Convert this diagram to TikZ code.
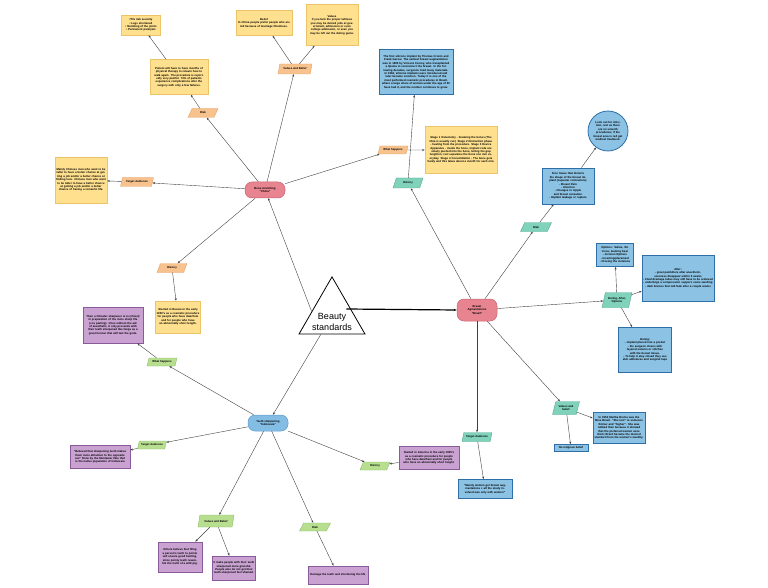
\documentclass[tikz,border=0pt]{standalone}
\usepackage{fontspec}
\setmainfont{Liberation Sans}
\usetikzlibrary{shapes.geometric,arrows.meta}
\definecolor{opara}{HTML}{F7C28E}\definecolor{oparad}{HTML}{E5A36A}
\definecolor{ybox}{HTML}{FFE08E}\definecolor{yboxd}{HTML}{EBC46A}
\definecolor{pinkp}{HTML}{E8848F}\definecolor{pinkpd}{HTML}{C86373}
\definecolor{bluep}{HTML}{84BDE4}\definecolor{bluepd}{HTML}{5E9CCB}
\definecolor{tpara}{HTML}{80D2BA}\definecolor{tparad}{HTML}{52A98F}
\definecolor{bbox}{HTML}{8CC2E3}\definecolor{bboxd}{HTML}{2F6FA8}
\definecolor{gpara}{HTML}{B8DF90}\definecolor{gparad}{HTML}{8BBA6A}
\definecolor{pbox}{HTML}{C9A2D1}\definecolor{pboxd}{HTML}{8A5A9A}
\tikzset{
 tiny/.style={font=\fontsize{2.8}{3.4}\selectfont\bfseries, align=center, inner sep=1pt},
 para/.style={tiny, trapezium, trapezium left angle=70, trapezium right angle=110, trapezium stretches=true, line width=0.4pt},
 op/.style={para, fill=opara, draw=oparad},
 tp/.style={para, fill=tpara, draw=tparad},
 gp/.style={para, fill=gpara, draw=gparad},
 bx/.style={tiny, rectangle, line width=0.5pt},
 yb/.style={bx, fill=ybox, draw=yboxd},
 bb/.style={bx, fill=bbox, draw=bboxd, line width=0.8pt},
 pb/.style={bx, fill=pbox, draw=pboxd, line width=0.7pt},
 pill/.style={tiny, rectangle, rounded corners=7pt, line width=0.5pt},
 arr/.style={-{Stealth[length=2.6pt,width=2pt]}, line width=0.4pt, draw=black!75},
}
\begin{document}
\begin{tikzpicture}[x=1pt,y=-1pt]
\useasboundingbox (0,0) rectangle (768,588);
% central
\node[draw, line width=0.8pt, isosceles triangle, isosceles triangle apex angle=60, shape border rotate=90, minimum width=66pt, inner sep=0pt] (bs) at (332,315) {};
\node[font=\fontsize{9}{11}\selectfont, align=center] (bst) at (332,322) {Beauty\\standards};
% hubs
\node[pill, fill=pinkp, draw=pinkpd, minimum width=40pt, minimum height=16pt] (china) at (265,190) {Bone stretching\\"China"};
\node[pill, fill=pinkp, draw=pinkpd, minimum width=40pt, minimum height=22pt] (brazil) at (477,310) {Breast\\Agmentations\\"Brazil"};
\node[pill, fill=bluep, draw=bluepd, minimum width=40pt, minimum height=16pt] (indo) at (268,423) {Teeth sharpening\\"Indonesia"};
\draw[arr] (bs.170) -- (china);
\draw[-{Stealth[length=3pt]}, line width=1.2pt] (bs.east) ++(-8,-6) -- (brazil.west);
\draw[arr] (bs.240) -- (indo);
% China branch
\node[op, minimum width=30pt, minimum height=9pt] (crisk) at (203,113) {Risk};
\node[yb, minimum width=58pt, minimum height=35pt, text width=55pt] (crb) at (179,77) {Patient will have to have months of physical therapy to relearn how to walk again. The procedure is reportedly very painful. 73\% of patients experience complications after the surgery with only a few failures.};
\node[yb, minimum width=39pt, minimum height=20pt, text width=37pt] (crs) at (141,25) {75\% risk severity\\• Legs shortened\\• Numbing of the joints\\• Permanent paralysis};
\node[op, minimum width=34pt, minimum height=10pt] (cval) at (295,69) {Values and Belief};
\node[yb, minimum width=56pt, minimum height=25pt, text width=54pt] (cbel) at (264,23) {Belief\\In China people prefer people who are tall because of marriage fittedness.};
\node[yb, minimum width=52pt, minimum height=41pt, text width=50pt] (cvalb) at (332,25) {Values\\If you lack the proper tallness you may be denied jobs at government, admission or even college admission, or even you may be left out the dating game.};
\node[op, minimum width=33pt, minimum height=9pt] (cta) at (137,182) {Target Audience};
\node[yb, minimum width=52pt, minimum height=46pt, text width=50pt] (ctab) at (81,180) {Mainly Chinese men who want to be taller to have a better chance at getting a job and/or a better chance at finding love. Chinese men who want to be taller to have a better chance at getting a job and/or a better chance of having a romantic life.};
\node[op, minimum width=30pt, minimum height=9pt] (chis) at (172,268) {History};
\node[yb, minimum width=45pt, minimum height=32pt, text width=43pt] (chisb) at (178,317) {Started in Russia in the early 1950's as a cosmetic procedure for people who have dwarfism and for people who have an abnormally short length.};
\node[op, minimum width=30pt, minimum height=8pt] (cwh) at (393,150) {What happens};
\node[yb, minimum width=72pt, minimum height=47pt, text width=70pt] (cwhb) at (461,150) {Stage 1 Osteotomy - breaking the bones (The tibia is usually cut.) Stage 2 Distraction phase - healing from the procedure. Stage 3 Device Apparatus - inside the bone, implant rods are slowly pushed into the bone, letting the gap lengthen; rest separates the bone one mm everyday. Stage 4 Consolidation - The bone gets hardy and this takes about a month for each mm.};
\draw[arr] (china) -- (crisk); \draw[arr] (crisk) -- (crb); \draw[arr] (crb) -- (crs);
\draw[arr] (china) -- (cval); \draw[arr] (cval) -- (cbel); \draw[arr] (cval) -- (cvalb);
\draw[arr] (china) -- (cta); \draw[arr] (cta) -- (ctab);
\draw[arr] (china) -- (chis); \draw[arr] (chis) -- (chisb);
\draw[arr] (china) -- (cwh); \draw[arr] (cwh) -- (cwhb);
% Brazil branch
\node[tp, minimum width=30pt, minimum height=10pt] (bhis) at (408,183) {History};
\node[bb, minimum width=74pt, minimum height=45pt, text width=72pt] (bhisb) at (416,72) {The first silicone implant by Thomas Cronin and Frank Gerow. The earliest breast augmentation was in 1895 by Vincenz Czerny, who transplanted a lipoma to reconstruct the breast. In the following decades, surgeons tried many materials. In 1962, silicone implants were introduced and later became common. Today it is one of the most performed cosmetic procedures in Brazil, where a large share of women under the age of 40 have had it, and the number continues to grow.};
\node[tp, minimum width=31pt, minimum height=9pt] (brisk) at (536,227) {Risk};
\node[bb, minimum width=52pt, minimum height=36pt, text width=50pt] (briskb) at (568,186) {Scar tissue that distorts the shape of the breast implant (capsular contracture)\\- Breast Pain\\- Infection\\- Changes in nipple and breast sensation\\- Implant leakage or rupture};
\node[bb, circle, minimum size=40pt, text width=30pt, inner sep=0pt] (bcirc) at (608,131) {Look out for infection, rest as there are no smooth procedures; if the breast area is red get medical treatment.};
\node[tp, minimum width=30pt, minimum height=15pt] (bdur) at (617,300) {During, After,\\Options};
\node[bb, minimum width=36pt, minimum height=23pt, text width=35pt] (bopt) at (615,255) {Options: Saline, Silicone, Gummy bear\\- Incision Options\\- Inserting/placement\\- Closing the incisions};
\node[bb, minimum width=72pt, minimum height=46pt, text width=70pt] (baft) at (678,278) {After:\\- great painkillers after anesthetic,\\ soreness disappear within 5 weeks\\- Fluid drainage tubes may still have to be removed\\- underlings a compression support, some swelling\\- dark bruises that will fade after a couple weeks};
\node[bb, minimum width=53pt, minimum height=45pt, text width=51pt] (bdurb) at (645,350) {During:\\- implant placed into a pocket\\- the surgeon closes with layered sutures or stitches with the breast tissue.\\- To help it stay closed they use skin adhesives and surgical tape};
\node[tp, minimum width=30pt, minimum height=9pt] (bta) at (477,437) {Target Audience};
\node[bb, minimum width=54pt, minimum height=19pt, text width=52pt] (btab) at (485,489) {"Mainly women get breast augmentations + all the study involved was only with women"};
\node[tp, minimum width=27pt, minimum height=13pt] (bval) at (566,408) {Values and\\belief};
\node[bb, minimum width=34pt, minimum height=7pt] (bvb1) at (571,448) {No religious belief};
\node[bb, minimum width=52pt, minimum height=31pt, text width=50pt] (bvb2) at (619,428) {In 1954 Martha Rocha was the Miss Brazil. "She lost" to someone thicker and "higher". She was rubbed then because it showed that the preferred women were thick; Brazil became the desired standard from the women's wealthy.};
\draw[arr] (brazil) -- (bhis); \draw[arr] (bhis) -- (bhisb);
\draw[arr] (brazil) -- (brisk); \draw[arr] (brisk) -- (briskb); \draw[arr] (briskb) -- (bcirc);
\draw[arr] (brazil) -- (bdur); \draw[arr] (bdur) -- (bopt); \draw[arr] (bdur) -- (baft); \draw[arr] (bdur) -- (bdurb);
\draw[arr] (brazil) -- (bta); \draw[arr] (bta) -- (btab);
\draw[arr] (brazil) -- (bval); \draw[arr] (bval) -- (bvb1); \draw[arr] (bval) -- (bvb2);
% Indonesia branch
\node[gp, minimum width=30pt, minimum height=8pt] (iwh) at (162,362) {What happens};
\node[pb, minimum width=60pt, minimum height=36pt, text width=58pt] (iwhb) at (113,325) {Then a Chiseler sharpener is in (chisel) in preparation of the more sharp file (cos parting). Once without the aid of anesthetic, it only proceeds with their teeth sharpened like fangs as a great honour that will last the gods.};
\node[gp, minimum width=29pt, minimum height=8pt] (ita) at (152,445) {Target Audience};
\node[pb, minimum width=60pt, minimum height=23pt, text width=58pt] (itab) at (100,457) {"Believed that sharpening teeth makes them more attractive to the opposite sex" Done by the Mentawai tribe that is the native population of Indonesia};
\node[gp, minimum width=30pt, minimum height=8pt] (ihis) at (375,466) {History};
\node[pb, minimum width=60pt, minimum height=23pt, text width=58pt] (ihisb) at (429,458) {Started in America in the early 1900's as a cosmetic procedure for people who have dwarfism and for people who have an abnormally short height.};
\node[gp, minimum width=36pt, minimum height=12pt] (ival) at (216,521) {Values and Belief};
\node[pb, minimum width=44pt, minimum height=30pt, text width=42pt] (ivb1) at (180,557) {Others believe that filing a person's teeth to points will ensure good hunting, since pointy teeth resemble the teeth of a wild pig.};
\node[pb, minimum width=43pt, minimum height=24pt, text width=41pt] (ivb2) at (234,568) {It make people with their teeth sharpened more graceful. People also do not get their teeth sharpened feel shamed.};
\node[gp, minimum width=31pt, minimum height=8pt] (irisk) at (315,527) {Risk};
\node[pb, minimum width=60pt, minimum height=18pt, text width=58pt] (iriskb) at (338,575) {Damage the teeth and shortening the life};
\draw[arr] (indo) -- (iwh); \draw[arr] (iwh) -- (iwhb);
\draw[arr] (indo) -- (ita); \draw[arr] (ita) -- (itab);
\draw[arr] (indo) -- (ihis); \draw[arr] (ihisb) -- (ihis);
\draw[arr] (indo) -- (ival); \draw[arr] (ival) -- (ivb1); \draw[arr] (ival) -- (ivb2);
\draw[arr] (indo) -- (irisk); \draw[arr] (irisk) -- (iriskb);
\end{tikzpicture}
\end{document}
